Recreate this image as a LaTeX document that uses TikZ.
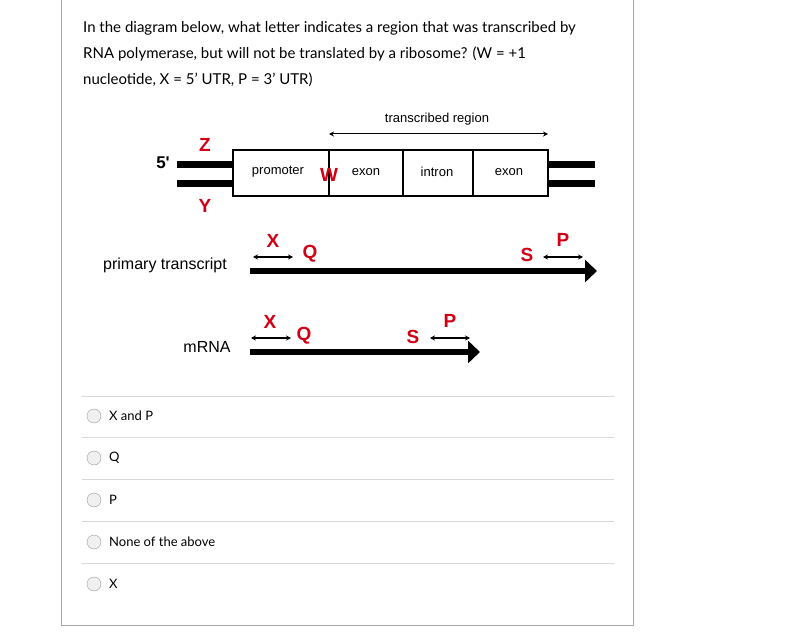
\documentclass[tikz,border=0pt]{standalone}
\usepackage{fontspec}
\setmainfont{Lato}
\newfontfamily\arial{Liberation Sans}
\usetikzlibrary{arrows.meta}
\definecolor{qred}{RGB}{210,0,20}
\begin{document}
\begin{tikzpicture}[x=1pt,y=-1pt,
  lbl/.style={font=\arial\bfseries\fontsize{19}{19}\selectfont,text=qred,inner sep=0},
  dtext/.style={font=\arial\fontsize{13}{13}\selectfont,inner sep=0},
  bar/.style={line width=7pt},
  dbl/.style={{Stealth[length=5pt,width=5pt]}-{Stealth[length=5pt,width=5pt]},line width=1.3pt},
  big/.style={line width=6pt,-{Triangle[length=12pt,width=22pt]}},
  sep/.style={draw=black!15,line width=0.8pt},
  radio/.style={circle,draw=black!40,fill=black!6,minimum size=14pt,inner sep=0},
  opt/.style={font=\fontsize{13}{13}\selectfont,anchor=west,inner sep=0}]
\useasboundingbox (0,0) rectangle (807,639);
\draw[black!35,line width=0.8pt] (61,-5) -- (61,625) -- (633,625) -- (633,-5);
\node[anchor=west,font=\fontsize{15}{15}\selectfont,inner sep=0] (q1) at (83,28) {In the diagram below, what letter indicates a region that was transcribed by};
\node[anchor=west,font=\fontsize{15}{15}\selectfont,inner sep=0] (q2) at (83,54) {RNA polymerase, but will not be translated by a ribosome? (W = +1};
\node[anchor=west,font=\fontsize{15}{15}\selectfont,inner sep=0] (q3) at (83,80) {nucleotide, X = 5' UTR, P = 3' UTR)};
% gene
\draw[bar] (177,165) -- (233,165); \draw[bar] (177,184) -- (233,184);
\draw[bar] (548,165) -- (595,165); \draw[bar] (548,184) -- (595,184);
\draw[line width=1.2pt] (233,150) rectangle (548,196);
\draw[line width=1.2pt] (329,150) -- (329,196) (403,150) -- (403,196) (473,150) -- (473,196);
\node[dtext] (prom) at (278,172) {promoter};
\node[dtext] (ex1) at (366,172) {exon};
\node[dtext] (intr) at (437,172) {intron};
\node[dtext] (ex2) at (509,172) {exon};
\node[lbl] (W) at (329,175) {W};
\node[font=\arial\bfseries\fontsize{17}{17}\selectfont,inner sep=0] (five) at (163,163) {5'};
\node[lbl] (Z) at (205,145) {Z};
\node[lbl] (Y) at (205,206) {Y};
\coordinate (tr1) at (329,134); \coordinate (tr2) at (548,134);
\draw[{Stealth[length=5pt,width=5pt]}-{Stealth[length=5pt,width=5pt]},line width=1pt] (tr1) -- (tr2);
\node[dtext] (trl) at (437,119) {transcribed region};
% primary transcript
\node[font=\arial\fontsize{16}{16}\selectfont,inner sep=0] (pt) at (165,265) {primary transcript};
\coordinate (p1) at (250,271); \coordinate (p2) at (597,271);
\draw[big] (p1) -- (p2);
\coordinate (px1) at (253,257); \coordinate (px2) at (293,257);
\draw[dbl] (px1) -- (px2);
\node[lbl] (X1) at (273,241) {X};
\node[lbl] (Q1) at (310,254) {Q};
\node[lbl] (S1) at (527,255) {S};
\node[lbl] (P1) at (563,240) {P};
\coordinate (pp1) at (543,257); \coordinate (pp2) at (583,257);
\draw[dbl] (pp1) -- (pp2);
% mRNA
\node[font=\arial\fontsize{16}{16}\selectfont,inner sep=0] (mr) at (207,347) {mRNA};
\coordinate (m1) at (250,352); \coordinate (m2) at (480,352);
\draw[big] (m1) -- (m2);
\coordinate (mx1) at (251,338); \coordinate (mx2) at (291,338);
\draw[dbl] (mx1) -- (mx2);
\node[lbl] (X2) at (270,322) {X};
\node[lbl] (Q2) at (304,336) {Q};
\node[lbl] (S2) at (413,337) {S};
\node[lbl] (P2) at (450,321) {P};
\coordinate (mp1) at (430,338); \coordinate (mp2) at (470,338);
\draw[dbl] (mp1) -- (mp2);
% options
\foreach \y in {396,437,479,521,563} \draw[sep] (82,\y) -- (614,\y);
\node[radio] (r1) at (94,416) {}; \node[opt] (o1) at (109,416) {X and P};
\node[radio] (r2) at (94,458) {}; \node[opt] (o2) at (109,458) {Q};
\node[radio] (r3) at (94,500) {}; \node[opt] (o3) at (109,500) {P};
\node[radio] (r4) at (94,542) {}; \node[opt] (o4) at (109,542) {None of the above};
\node[radio] (r5) at (94,584) {}; \node[opt] (o5) at (109,584) {X};
\end{tikzpicture}
\end{document}
